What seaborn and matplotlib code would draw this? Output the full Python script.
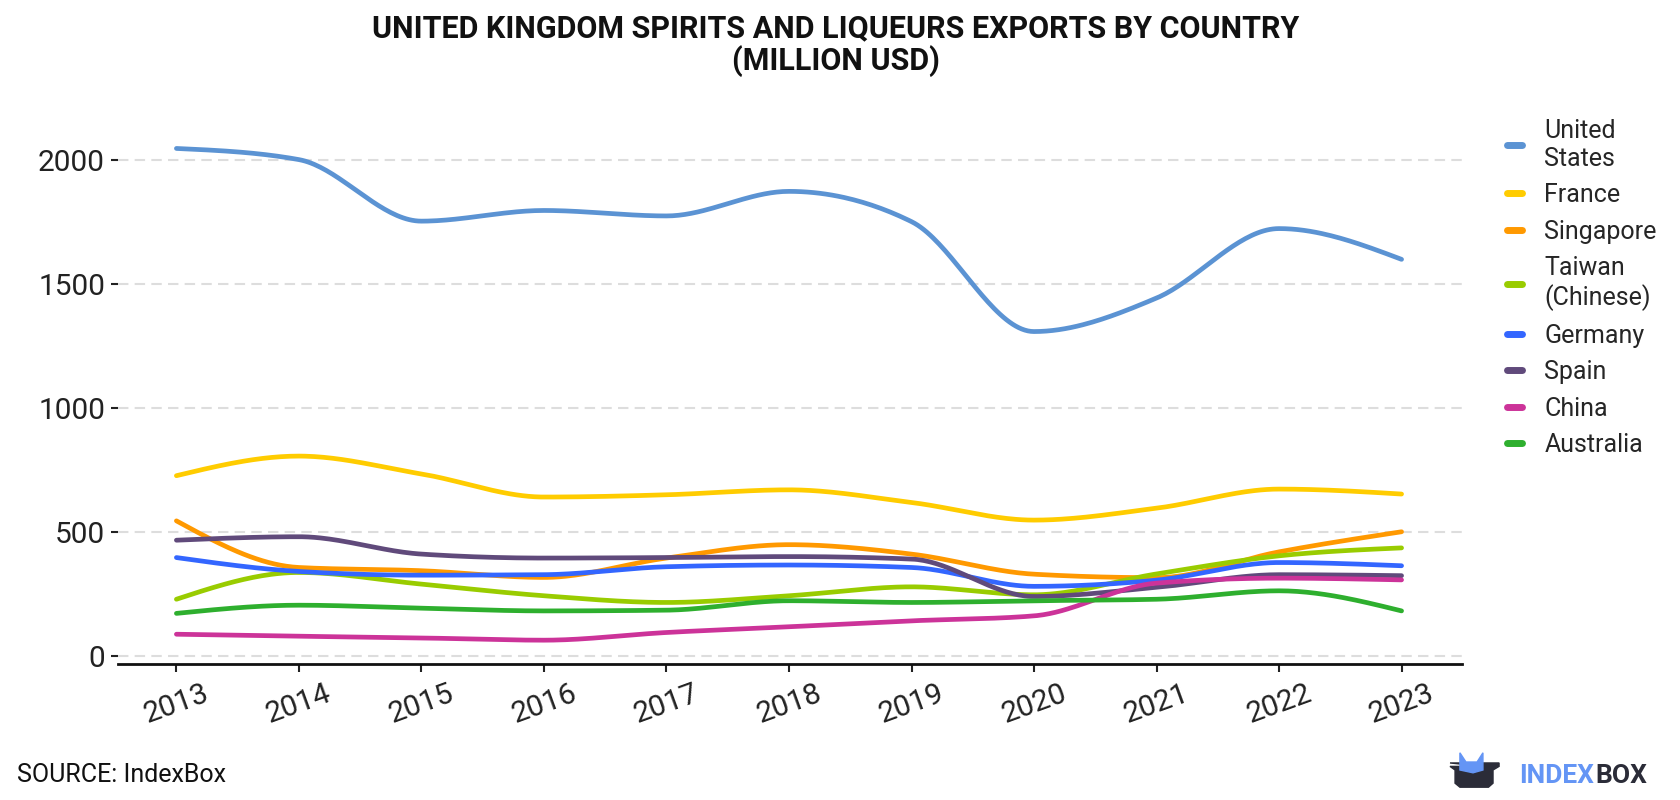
import numpy as np
import pandas as pd
import seaborn as sns
import matplotlib.pyplot as plt
from matplotlib.patches import Polygon

# values (million USD)
years = [2013, 2014, 2015, 2016, 2017, 2018, 2019, 2020, 2021, 2022, 2023]
united_states = [2045, 2000, 1752, 1795, 1773, 1872, 1750, 1307, 1442, 1722, 1598]
france = [726, 805, 733, 640, 649, 669, 618, 547, 595, 672, 652]
singapore = [544, 356, 343, 316, 394, 448, 410, 329, 315, 419, 500]
taiwan = [228, 336, 289, 242, 215, 242, 278, 246, 330, 403, 435]
germany = [396, 340, 325, 327, 359, 366, 356, 280, 305, 376, 363]
spain = [466, 480, 410, 394, 396, 400, 390, 239, 276, 327, 323]
china = [87, 79, 72, 63, 94, 117, 141, 161, 293, 313, 306]
australia = [171, 204, 192, 181, 184, 222, 215, 222, 228, 262, 181]

labels = ["United\nStates", "France", "Singapore", "Taiwan\n(Chinese)",
          "Germany", "Spain", "China", "Australia"]
series = [united_states, france, singapore, taiwan, germany, spain, china, australia]
colors = ["#5b93d3", "#ffcc00", "#ff9900", "#99cc00",
          "#3366ff", "#604a7b", "#cc3399", "#2eaf2e"]


def monotone(x, y, n=40):
    # monotone cubic (same idea as d3 curveMonotoneX) for the smooth lines
    x = np.asarray(x, float)
    y = np.asarray(y, float)
    h = np.diff(x)
    s = np.diff(y) / h
    t = np.zeros_like(y)
    for i in range(1, len(y) - 1):
        if s[i - 1] * s[i] <= 0:
            t[i] = 0
        else:
            p = (s[i - 1] * h[i] + s[i] * h[i - 1]) / (h[i - 1] + h[i])
            t[i] = (np.sign(s[i - 1]) + np.sign(s[i])) * min(abs(s[i - 1]), abs(s[i]), 0.5 * abs(p))
    t[0] = (3 * s[0] - t[1]) / 2
    t[-1] = (3 * s[-1] - t[-2]) / 2
    xs, ys = [], []
    for i in range(len(y) - 1):
        u = np.linspace(0, 1, n, endpoint=False)
        h00 = 2 * u**3 - 3 * u**2 + 1
        h10 = u**3 - 2 * u**2 + u
        h01 = -2 * u**3 + 3 * u**2
        h11 = u**3 - u**2
        xs.append(x[i] + u * h[i])
        ys.append(h00 * y[i] + h10 * h[i] * t[i] + h01 * y[i + 1] + h11 * h[i] * t[i + 1])
    xs.append([x[-1]])
    ys.append([y[-1]])
    return np.concatenate(xs), np.concatenate(ys)


sns.set_theme(style="white")
plt.rcParams['font.family'] = ['Roboto', 'DejaVu Sans']

fig = plt.figure(figsize=(16.8, 8), dpi=100)
ax = fig.add_axes([0.070, 0.17, 0.800, 0.677])

for lab, vals, col in zip(labels, series, colors):
    xs, ys = monotone(years, vals)
    sns.lineplot(x=xs, y=ys, color=col, lw=3.4, label=lab, ax=ax, sort=False)

ax.set_xlim(2012.52, 2023.49)
ax.set_ylim(-33, 2150)
ax.set_yticks([0, 500, 1000, 1500, 2000])
ax.set_xticks(years)
ax.set_xticklabels([str(y) for y in years], rotation=20)
ax.tick_params(axis='both', labelsize=21.5, colors='#222222', length=6, width=1.5,
               bottom=True, left=True)
ax.tick_params(axis='y', length=5, pad=4)
ax.tick_params(axis='x', pad=5)
ax.grid(axis='y', color='#dddddd', linestyle=(0, (5, 3)), linewidth=1.5)
ax.grid(axis='x', visible=False)
for side in ['top', 'right', 'left']:
    ax.spines[side].set_visible(False)
ax.spines['bottom'].set_color('#111111')
ax.spines['bottom'].set_linewidth(2)
ax.set_xlabel("")
ax.set_ylabel("")

leg = ax.legend(loc='upper left', bbox_to_anchor=(0.891, 0.864), bbox_transform=fig.transFigure,
                frameon=False, fontsize=18, handlelength=0.6, handletextpad=0.9,
                labelspacing=0.5, borderaxespad=0)
for line in leg.get_lines():
    line.set_linewidth(5)

fig.text(0.4976, 0.984, "UNITED KINGDOM SPIRITS AND LIQUEURS EXPORTS BY COUNTRY\n(MILLION USD)",
         ha='center', va='top', fontsize=22, fontweight='bold', color='#111111',
         linespacing=1.1)

fig.text(0.010, 0.031, "SOURCE: IndexBox", ha='left', va='center', fontsize=18, color='#111111')

# IndexBox logo
t1 = fig.text(0.904, 0.030, "INDEX", ha='left', va='center', fontsize=19, fontweight='bold',
              color='#6495f5')
fig.canvas.draw()
bb = t1.get_window_extent().transformed(fig.transFigure.inverted())
fig.text(bb.x1 + 0.001, 0.030, "BOX", ha='left', va='center', fontsize=19, fontweight='bold',
         color='#2b2c38')
ears = Polygon([(0.8690, 0.0375), (0.8690, 0.059), (0.8726, 0.0475), (0.8792, 0.0475),
                (0.8827, 0.059), (0.8827, 0.0375), (0.8768, 0.034)],
               closed=True, transform=fig.transFigure, color='#6495f5')
box = Polygon([(0.8631, 0.0463), (0.8923, 0.0463), (0.8923, 0.0420), (0.8887, 0.0375),
               (0.8887, 0.021), (0.8860, 0.016), (0.8690, 0.016), (0.8661, 0.021),
               (0.8661, 0.0375), (0.8631, 0.0420), (0.8690, 0.0420), (0.8768, 0.034),
               (0.8827, 0.0420)],
              closed=True, transform=fig.transFigure, color='#2b2c38')
fig.patches.extend([box, ears])

fig.savefig("out.png", dpi=100)
